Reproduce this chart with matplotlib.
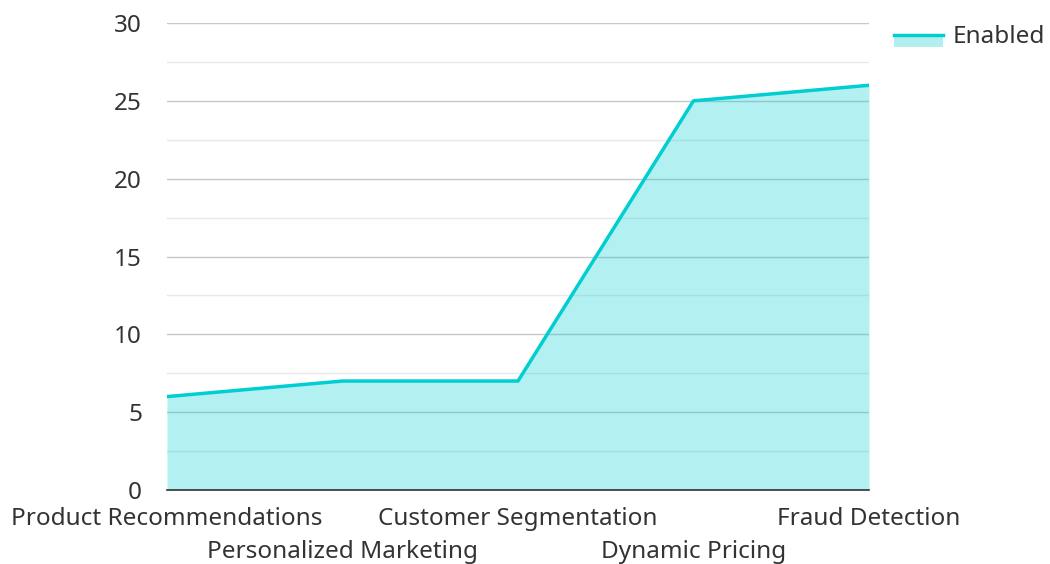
import matplotlib.pyplot as plt
from matplotlib.patches import Rectangle
from matplotlib.lines import Line2D
from matplotlib.legend_handler import HandlerBase
from matplotlib.ticker import MultipleLocator

plt.rcParams['font.family'] = ['Noto Sans', 'DejaVu Sans']

# data
categories = ['Product Recommendations', 'Personalized Marketing',
              'Customer Segmentation', 'Dynamic Pricing', 'Fraud Detection']
enabled = [6, 7, 7, 25, 26]

lineColor = '#00CED1'
fillColor = '#B2EFEE'
textColor = '#333333'
fs = 17.5


class AreaHandler(HandlerBase):
    # line on top, light area below it
    def create_artists(self, legend, orig_handle, xdescent, ydescent,
                       width, height, fontsize, trans):
        yc = height / 2.0 - ydescent
        rect = Rectangle((-xdescent, yc - 8.6), width, 8.6,
                         facecolor=fillColor, edgecolor='none', transform=trans)
        line = Line2D([-xdescent, -xdescent + width], [yc, yc],
                      color=lineColor, linewidth=2.5, transform=trans)
        return [rect, line]


fig = plt.figure(figsize=(10.5, 5.64), dpi=100)
ax = fig.add_axes([0.159, 0.1312, 0.6686, 0.828])

xs = list(range(len(categories)))
ax.fill_between(xs, enabled, 0, color=lineColor, alpha=0.3, linewidth=0, zorder=2)
area, = ax.plot(xs, enabled, color=lineColor, linewidth=2.5, zorder=3)

ax.set_xlim(0, len(categories) - 1)
ax.set_ylim(0, 30)
ax.yaxis.set_major_locator(MultipleLocator(5))
ax.yaxis.set_minor_locator(MultipleLocator(2.5))
ax.grid(which='major', axis='y', color='#c8c8c8', linewidth=1, zorder=1)
ax.grid(which='minor', axis='y', color='#e8e8e8', linewidth=1, zorder=1)
ax.set_axisbelow(True)

# staggered tick labels
ax.set_xticks(xs)
ax.set_xticklabels(categories, fontsize=fs, color=textColor)
ax.tick_params(axis='x', length=0, pad=12.5)
for i, tk in enumerate(ax.xaxis.get_major_ticks()):
    if i % 2 == 1:
        tk.set_pad(12.5 + 33 * 0.72)
ax.tick_params(axis='y', which='both', length=0, pad=18, labelsize=fs, labelcolor=textColor)

for s in ['top', 'right', 'left']:
    ax.spines[s].set_visible(False)
ax.spines['bottom'].set_color(textColor)
ax.spines['bottom'].set_linewidth(1.2)

fig.legend([area], ['Enabled'], loc='upper left',
           bbox_to_anchor=(882 / 1050, (564 - 13) / 564), borderpad=0,
           frameon=False, fontsize=fs, handlelength=2.0, handletextpad=0.4,
           labelcolor=textColor, handler_map={Line2D: AreaHandler()})

fig.savefig('out.png', dpi=100)
